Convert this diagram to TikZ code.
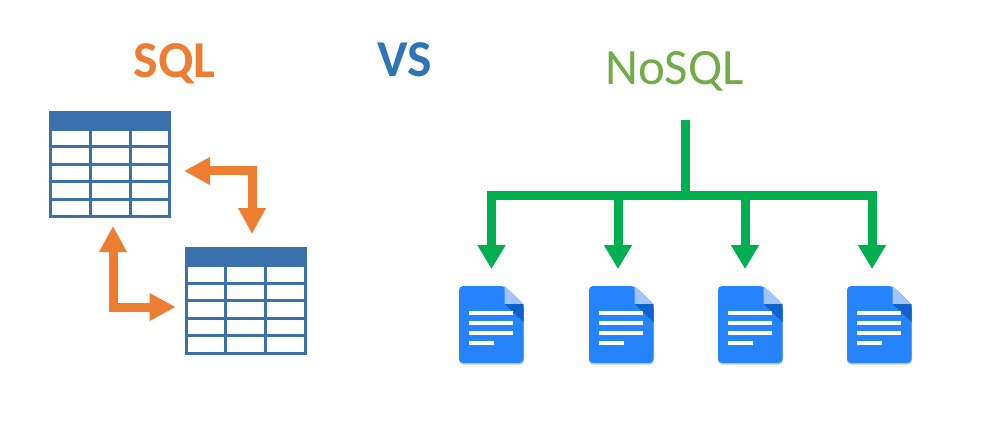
\documentclass[tikz,border=0pt]{standalone}
\usepackage{fontspec}
\setmainfont{Carlito}
\usetikzlibrary{arrows.meta}
\definecolor{orangeC}{HTML}{ED7D31}
\definecolor{vsblue}{HTML}{2E75B6}
\definecolor{tblblue}{HTML}{3A70AB}
\definecolor{txtgreen}{HTML}{70AD47}
\definecolor{arrgreen}{HTML}{00B050}
\definecolor{docblue}{HTML}{2583FB}
\definecolor{foldlight}{HTML}{A1C4FC}
\definecolor{folddark}{HTML}{0F62C9}
\tikzset{
  x=0.75pt,y=-0.75pt,
  title/.style={anchor=base,inner sep=0pt},
  tablebox/.style={minimum width=91.5pt,minimum height=80.5pt,inner sep=0pt,outer sep=0pt},
  docbox/.style={minimum width=48.2pt,minimum height=57.8pt,inner sep=0pt,outer sep=0pt},
  orangelink/.style={draw=orangeC,line width=6.75pt,{Triangle[length=19.5pt,width=19.5pt]}-{Triangle[length=19.5pt,width=19.5pt]}},
  greenlink/.style={draw=arrgreen,line width=6.75pt,-{Triangle[length=18pt,width=20pt]}},
  greenbar/.style={draw=arrgreen,line width=6.75pt},
}
\newcommand{\sqltable}[3]{% name, left, top
  \node[tablebox,anchor=north west] (#1) at (#2,#3) {};
  \begin{scope}[shift={(#2,#3)}]
    \fill[tblblue] (0,0) rectangle (122,20);
    \draw[tblblue,line width=2.25pt] (1.5,1.5) rectangle (120.5,106);
    \foreach \r in {36,53.6,71,88.6}{\draw[tblblue,line width=2.25pt] (0,\r) -- (122,\r);}
    \foreach \c in {41.4,80.7}{\draw[tblblue,line width=2.25pt] (\c,20) -- (\c,107);}
  \end{scope}}
\newcommand{\docicon}[3]{% name, left, top
  \node[docbox,anchor=north west] (#1) at (#2,#3) {};
  \begin{scope}[shift={(#2,#3)}]
    \fill[black!45,opacity=.45,rounded corners=3pt] (0,19) -- (0,78.5) -- (65,78.5) -- (65,19) -- cycle;
    \fill[docblue,rounded corners=3pt] (0,0) -- (45.5,0) -- (64.5,18) -- (64.5,77) -- (0,77) -- cycle;
    \fill[foldlight] (45.5,0) -- (64.5,18) -- (45.5,18) -- cycle;
    \fill[folddark] (45.5,18) -- (64.5,18) -- (64.5,36) -- cycle;
    \foreach \r in {25,35,45}{\fill[white] (10.3,\r) rectangle (54.3,\r+4.3);}
    \fill[white] (10.3,55) rectangle (35,59.3);
  \end{scope}}
\begin{document}
\begin{tikzpicture}
\useasboundingbox (0,0) rectangle (988,431);
\fill[white] (0,0) rectangle (988,431);
\node[title,text=orangeC,font=\fontsize{38.8}{38.8}\selectfont\bfseries] (sql) at (174.5,77.5) {SQL};
\node[title,text=vsblue,font=\fontsize{38.8}{38.8}\selectfont\bfseries] (vs) at (404.5,76.5) {VS};
\node[title,text=txtgreen,font=\fontsize{38.2}{38.2}\selectfont] (nosql) at (674.5,85) {NoSQL};
\sqltable{t1}{49.3}{110.7}
\sqltable{t2}{184.5}{247}
\coordinate (a1s) at (184,171);
\coordinate (a1e) at (252,234);
\coordinate (a2s) at (113,226);
\coordinate (a2e) at (175.7,307);
\draw[orangelink] (a1s) -| (a1e);
\draw[orangelink] (a2s) |- (a2e);
\docicon{d1}{459}{286}
\docicon{d2}{589}{286}
\docicon{d3}{718}{286}
\docicon{d4}{847}{286}
\coordinate (top) at (685.3,120);
\coordinate (hub) at (685.3,195.5);
\coordinate (g1) at (491.5,269);
\coordinate (g2) at (618,269);
\coordinate (g3) at (745,269);
\coordinate (g4) at (872,269);
\draw[greenbar] (top) -- (hub);
\draw[greenlink] (hub) -| (g1);
\draw[greenlink] (hub) -| (g2);
\draw[greenlink] (hub) -| (g3);
\draw[greenlink] (hub) -| (g4);
\end{tikzpicture}
\end{document}
